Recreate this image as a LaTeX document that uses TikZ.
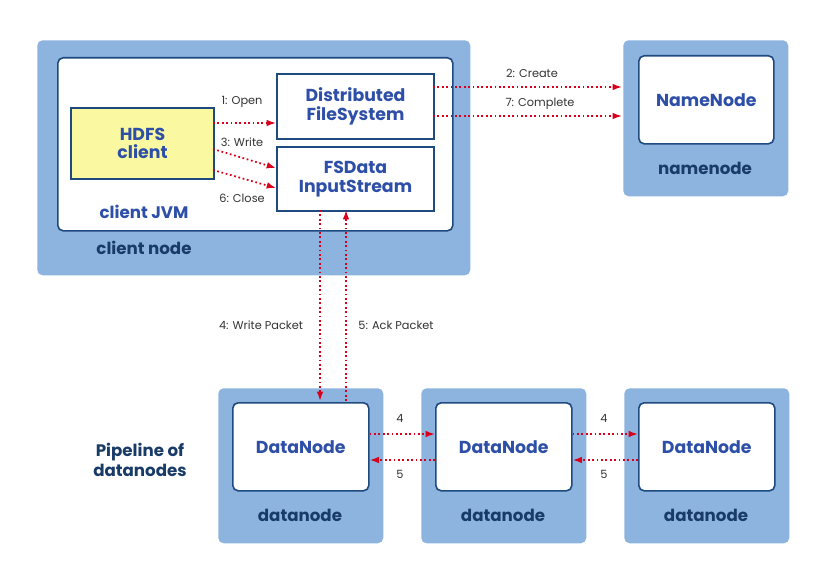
\documentclass[tikz,border=0pt]{standalone}
\usepackage{fontspec}
\setmainfont{Poppins}
\usetikzlibrary{arrows.meta}
\definecolor{outer}{HTML}{8CB4DE}
\definecolor{frame}{HTML}{1F4A80}
\definecolor{txt}{HTML}{2E4FA8}
\definecolor{yel}{HTML}{FAF8A0}
\definecolor{arr}{HTML}{D9001B}
\begin{document}
\begin{tikzpicture}[x=0.75pt,y=-0.75pt,
 outerbox/.style={fill=outer,draw=none,rounded corners=4pt},
 whitebox/.style={fill=white,draw=frame,line width=1.2pt,rounded corners=4pt},
 sqbox/.style={fill=white,draw=frame,line width=1.5pt},
 lbl/.style={font=\bfseries\fontsize{12.5}{15}\selectfont,text=frame!80!black},
 big/.style={font=\bfseries\fontsize{13}{14}\selectfont,text=txt,align=center},
 small/.style={font=\fontsize{8.5}{10}\selectfont,text=black!80},
 ar/.style={draw=arr,line width=1.3pt,dotted,-{Latex[length=7pt,width=5pt]}}]
\useasboundingbox (0,0) rectangle (830,581);
% client node
\node[outerbox,minimum width=433*0.75pt,minimum height=235*0.75pt,anchor=north west] (cn) at (37,40) {};
\node[whitebox,minimum width=395*0.75pt,minimum height=173*0.75pt,anchor=north west] (jvm) at (57,57) {};
\node[lbl] (cnl) at (144,248) {client node};
\node[lbl,text=txt] (jvml) at (144,212) {client JVM};
\node[sqbox,fill=yel,minimum width=143*0.75pt,minimum height=71*0.75pt,anchor=north west,big] (hc) at (70,107) {HDFS\\client};
\node[sqbox,minimum width=157*0.75pt,minimum height=65*0.75pt,anchor=north west,big] (dfs) at (276,73) {Distributed\\FileSystem};
\node[sqbox,minimum width=157*0.75pt,minimum height=64*0.75pt,anchor=north west,big] (fsd) at (276,146) {FSData\\InputStream};
% namenode
\node[outerbox,minimum width=165*0.75pt,minimum height=156*0.75pt,anchor=north west] (nn) at (623,40) {};
\node[whitebox,minimum width=135*0.75pt,minimum height=88*0.75pt,anchor=north west,big] (nnb) at (638,55) {NameNode};
\node[lbl] (nnl) at (705,168) {namenode};
% datanodes
\foreach \i/\x in {1/218,2/421,3/624}{
 \node[outerbox,minimum width=165*0.75pt,minimum height=155*0.75pt,anchor=north west] (do\i) at (\x,388) {};
 \node[whitebox,minimum width=136*0.75pt,minimum height=88*0.75pt,anchor=north west,big] (dn\i) at (\x+14,402) {DataNode};
 \node[lbl] (dl\i) at (\x+82,515) {datanode};
}
\node[lbl,align=center] (pl) at (140,460) {Pipeline of\\datanodes};
% coordinates
\coordinate (a1) at (213,123); \coordinate (b1) at (276,123);
\coordinate (a3) at (213,149); \coordinate (b3) at (276,168);
\coordinate (a6) at (213,170); \coordinate (b6) at (276,188);
\coordinate (a2) at (433,87); \coordinate (b2) at (622,87);
\coordinate (a7) at (433,116); \coordinate (b7) at (622,116);
\coordinate (w1) at (320,210); \coordinate (w2) at (320,401);
\coordinate (k1) at (346,401); \coordinate (k2) at (346,210);
\draw[ar] (a1) -- (b1);
\draw[ar] (a3) -- (b3);
\draw[ar] (a6) -- (b6);
\draw[ar] (a2) -- (b2);
\draw[ar] (a7) -- (b7);
\draw[ar] (w1) -- (w2);
\draw[ar] (k1) -- (k2);
\node[small] (l1) at (242,102) {1: Open};
\node[small] (l3) at (242,142) {3: Write};
\node[small] (l6) at (242,198) {6: Close};
\node[small] (l2) at (532,73) {2: Create};
\node[small] (l7) at (540,104) {7: Complete};
\node[small] (l4) at (261,325) {4: Write Packet};
\node[small] (l5) at (396,325) {5: Ack Packet};
\foreach \a/\b/\x in {1/2/400,2/3/604}{
 \draw[ar] (dn\a.east |- 0,434) -- (dn\b.west |- 0,434);
 \draw[ar] (dn\b.west |- 0,460) -- (dn\a.east |- 0,460);
 \node[small] at (\x,418) {4};
 \node[small] at (\x,474) {5};
}
\end{tikzpicture}
\end{document}
